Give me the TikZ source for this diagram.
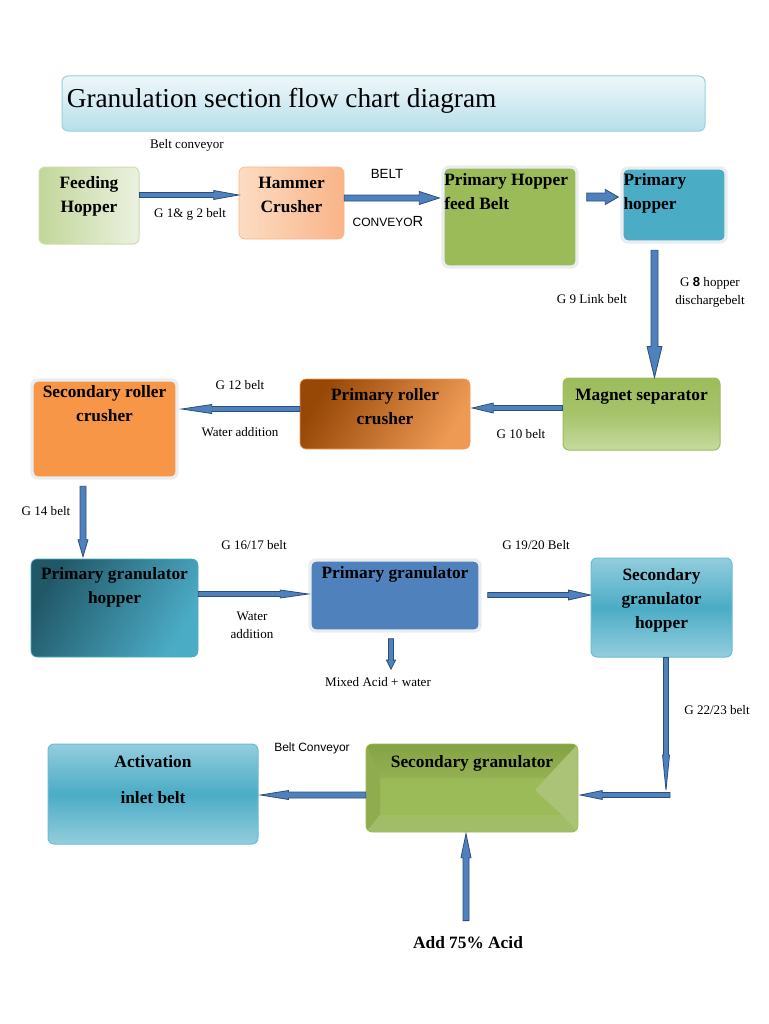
\documentclass[tikz,border=0pt]{standalone}
\usepackage{fontspec}
\setmainfont{Liberation Serif}
\newfontfamily\sansf{Liberation Sans}
\usetikzlibrary{positioning,calc}

\definecolor{arrowfill}{HTML}{4F81BD}
\definecolor{arrowedge}{HTML}{2C4E7C}
\definecolor{titleA}{HTML}{EEF7FA}
\definecolor{titleB}{HTML}{B7DFEA}
\definecolor{titleedge}{HTML}{9DCFDC}
\definecolor{feedA}{HTML}{C2D69A}
\definecolor{feedB}{HTML}{EBF1DF}
\definecolor{hamA}{HTML}{FCDCC3}
\definecolor{hamB}{HTML}{F9B487}
\definecolor{phfbgreen}{HTML}{9BBB59}
\definecolor{phblue}{HTML}{4BACC6}
\definecolor{glowgray}{HTML}{EAEDF0}
\definecolor{msA}{HTML}{9DBC5B}
\definecolor{msM}{HTML}{A6C36B}
\definecolor{msB}{HTML}{C6DA9F}
\definecolor{prcA}{HTML}{974706}
\definecolor{prcB}{HTML}{EE9A55}
\definecolor{srcorange}{HTML}{F79646}
\definecolor{pghA}{HTML}{215868}
\definecolor{pghB}{HTML}{4BACC6}
\definecolor{pgblue}{HTML}{4F81BD}
\definecolor{sghA}{HTML}{93CDDD}
\definecolor{sghB}{HTML}{4BACC6}
\definecolor{sghedge}{HTML}{6FBCD1}
\definecolor{sgbase}{HTML}{9BBB59}
\definecolor{sgtopA}{HTML}{85A343}
\definecolor{sgtopB}{HTML}{93B152}
\definecolor{sgleft}{HTML}{8FAD4E}
\definecolor{sgbottom}{HTML}{A2BD68}
\definecolor{sgright}{HTML}{ABC377}

\tikzset{
  wh/.style 2 args={minimum width=#1*0.75pt, minimum height=#2*0.75pt},
  box/.style={rectangle, rounded corners=4.5pt, inner sep=0pt},
  glowbox/.style={box, draw=glowgray, line width=2.5pt},
  boxtext/.style={font=\fontsize{13}{18}\selectfont\bfseries, align=center, inner sep=0pt},
  lbl/.style={font=\fontsize{9.8}{13.5}\selectfont, align=center, inner sep=0pt},
  head len/.store in=\headlen, head wid/.store in=\headwid, shaft wid/.store in=\shaftwid,
  head len=20, head wid=5, shaft wid=2.5,
  barrow/.style={fill=arrowfill, draw=arrowedge, line width=0.6pt, line join=miter,
    to path={let \p1=(\tikztostart), \p2=(\tikztotarget),
      \n1={atan2(\y2-\y1,\x2-\x1)}, \n2={veclen(\x2-\x1,\y2-\y1)} in
      [shift={(\p1)}, rotate=\n1]
      (0pt,{-\shaftwid*0.75pt}) -- ({\n2*1pt-\headlen*0.75pt},{-\shaftwid*0.75pt})
      -- ({\n2*1pt-\headlen*0.75pt},{-\headwid*0.75pt}) -- ({\n2*1pt},0pt)
      -- ({\n2*1pt-\headlen*0.75pt},{\headwid*0.75pt})
      -- ({\n2*1pt-\headlen*0.75pt},{\shaftwid*0.75pt})
      -- (0pt,{\shaftwid*0.75pt}) -- cycle}},
}

\begin{document}
\begin{tikzpicture}
    \pgfsetxvec{\pgfpoint{0.75pt}{0}}
    \pgfsetyvec{\pgfpoint{0}{-0.75pt}}
    \useasboundingbox[fill=white] (0,0) rectangle (768,1024);

    % title
    \node[box, wh={643}{55}, top color=titleA, bottom color=titleB, draw=titleedge, line width=0.75pt] (title) at (383.5,103.5) {};
    \node[font=\fontsize{20.5}{24}\selectfont, anchor=west, inner sep=0pt] (title-t) at ([xshift=3.75pt,yshift=1.9pt]title.west) {Granulation section flow chart diagram};

    % first row
    \node[box, wh={100}{77}, left color=feedA, right color=feedB, draw=feedA!80!white, line width=0.75pt] (feed) at (89,205.5) {};
    \node[boxtext, below=7.5pt of feed.north] (feed-t) {Feeding\\Hopper};
    \node[box, wh={105}{72}, left color=hamA, right color=hamB, draw=hamB, line width=0.5pt] (hammer) at (291.5,203) {};
    \node[boxtext, below=7.5pt of hammer.north] (hammer-t) {Hammer\\Crusher};
    \node[glowbox, wh={134}{100}, fill=phfbgreen] (phfb) at (510,217) {};
    \node[boxtext, align=left, anchor=north west] (phfb-t) at ([xshift=2pt,yshift=-6pt]phfb.north west) {Primary Hopper\\feed Belt};
    \node[glowbox, wh={104}{74}, fill=phblue] (ph) at (674,205) {};
    \node[boxtext, align=left, anchor=north west] (ph-t) at ([xshift=2.25pt,yshift=-5.25pt]ph.north west) {Primary\\hopper};

    % second row
    \node[box, wh={157}{72}, top color=msA, bottom color=msB, middle color=msM, draw=msA, line width=0.75pt] (magsep) at (641.5,414) {};
    \node[boxtext, below=8.25pt of magsep.north] (magsep-t) {Magnet separator};
    \node[box, wh={170}{70}, left color=prcA, right color=prcB, shading angle=60, draw=prcB, line width=0.5pt] (prc) at (385,414) {};
    \node[boxtext, below=7.5pt of prc.north] (prc-t) {Primary roller\\crusher};
    \node[glowbox, wh={145}{98}, fill=srcorange] (src) at (104.5,429) {};
    \node[boxtext, below=5.25pt of src.north] (src-t) {Secondary roller\\crusher};

    % third row
    \node[box, wh={167}{98}, left color=pghA, right color=pghB, shading angle=60, draw=pghB, line width=0.5pt] (pgh) at (114.5,608) {};
    \node[boxtext, below=6.75pt of pgh.north] (pgh-t) {Primary granulator\\hopper};
    \node[glowbox, wh={170}{71}, fill=pgblue] (pg) at (395,595.5) {};
    \node[boxtext, below=6pt of pg.north] (pg-t) {Primary granulator};
    \node[box, wh={141}{99}, top color=sghA, bottom color=sghA, middle color=sghB, draw=sghedge, line width=0.75pt] (sgh) at (661.5,607.5) {};
    \node[boxtext, below=8.25pt of sgh.north] (sgh-t) {Secondary\\granulator\\hopper};

    % fourth row
    \node[box, wh={210}{100}, top color=sghA, bottom color=sghA, middle color=sghB, draw=sghedge, line width=0.75pt] (act) at (153,794) {};
    \node[boxtext, below=9pt of act.north] (act-t) {Activation\\[9pt]inlet belt};
    % bevelled secondary granulator
    \begin{scope}
      \clip[rounded corners=4.5pt] (366,744) rectangle (578,832);
      \fill[sgbase] (366,744) rectangle (578,832);
      \shade[top color=sgtopA, bottom color=sgtopB] (366,744) -- (578,744) -- (546,778) -- (380,778) -- cycle;
      \fill[sgleft] (366,744) -- (380,778) -- (380,815) -- (366,832) -- cycle;
      \fill[sgbottom] (366,832) -- (380,815) -- (562,815) -- (578,832) -- cycle;
      \fill[sgright] (578,744) -- (535,790) -- (562,815) -- (578,832) -- cycle;
    \end{scope}
    \node[box, wh={212}{88}, draw=sgbase, line width=0.5pt] (sg) at (472,788) {};
    \node[boxtext, below=9pt of sg.north] (sg-t) {Secondary granulator};

    % labels
    \node[lbl] (beltconv1) at (187,145) {Belt conveyor};
    \node[lbl] (g1g2) at (190,214) {G 1\& g 2 belt};
    \node[lbl, font=\sansf\fontsize{10}{12}\selectfont] (beltcap) at (387,174) {BELT};
    \node[lbl, font=\sansf\fontsize{9}{12}\selectfont] (convcap) at (388,222) {CONVEYO{\fontsize{11}{12}\selectfont R}};
    \node[lbl] (g9) at (592,299) {G 9 Link belt};
    \node[lbl, font=\fontsize{9.8}{14}\selectfont] (g8) at (710,292.5) {G {\sansf\bfseries 8} hopper\\dischargebelt};
    \node[lbl] (g12) at (240,385) {G 12 belt};
    \node[lbl] (water1) at (240,432) {Water addition};
    \node[lbl] (g10) at (521,434) {G 10 belt};
    \node[lbl] (g14) at (46,511) {G 14 belt};
    \node[lbl] (g1617) at (254,545) {G 16/17 belt};
    \node[lbl] (g1920) at (536,545) {G 19/20 Belt};
    \node[lbl] (water2) at (252,625) {Water\\addition};
    \node[lbl] (mix) at (378,682) {Mixed Acid + water};
    \node[lbl] (g2223) at (717,710) {G 22/23 belt};
    \node[lbl, font=\sansf\fontsize{9}{11}\selectfont] (beltconv2) at (312,748) {Belt Conveyor};
    \node[boxtext] (acid) at (468,943) {Add 75\% Acid};

    % block arrows
    \coordinate (elbow) at (666,795);
    \draw[barrow, head len=25, head wid=4.5] (feed.east |- 0,195) to (hammer.west |- 0,195);
    \draw[barrow, head len=20, head wid=6.5, shaft wid=3] (hammer.east |- 0,198) to ([xshift=-1.5pt]phfb.west |- 0,198);
    \draw[barrow, head len=13, head wid=7.5, shaft wid=4] ([xshift=6pt]phfb.east |- 0,197) to ([xshift=-1.5pt]ph.west |- 0,197);
    \draw[barrow, head len=31, head wid=7.5, shaft wid=3.5] ([yshift=-5pt]ph.south -| 654.5,0) to (magsep.north -| 654.5,0);
    \draw[barrow, head len=21, head wid=5] (magsep.west |- 0,408) to ([xshift=1.5pt]prc.east |- 0,408);
    \draw[barrow, head len=30, head wid=4.5] (prc.west |- 0,409) to ([xshift=2.25pt]src.east |- 0,409);
    \draw[barrow, head len=17, head wid=5, shaft wid=3] ([yshift=-5pt]src.south -| 83,0) to ([yshift=1.5pt]pgh.north -| 83,0);
    \draw[barrow, head len=28, head wid=4] (pgh.east |- 0,594) to (pg.west |- 0,594);
    \draw[barrow, head len=22, head wid=5] ([xshift=4.5pt]pg.east |- 0,595) to (sgh.west |- 0,595);
    \draw[barrow, head len=9, head wid=4.5] ([yshift=-4.5pt]pg.south -| 391,0) to ([yshift=6pt]mix.north -| 391,0);
    \draw[barrow, head len=35, head wid=3.5] (sgh.south -| elbow) to ([yshift=3.75pt]elbow);
    \draw[barrow, head len=22, head wid=4.5] ([xshift=3pt]elbow) to ([xshift=1.5pt]sg.east |- elbow);
    \draw[barrow, head len=28, head wid=4.5, shaft wid=3] (sg.west |- 0,795) to ([xshift=1.5pt]act.east |- 0,795);
    \draw[barrow, head len=24, head wid=5, shaft wid=3] ([yshift=12pt]acid.north -| 466,0) to ([yshift=-1pt]sg.south -| 466,0);
\end{tikzpicture}
\end{document}
